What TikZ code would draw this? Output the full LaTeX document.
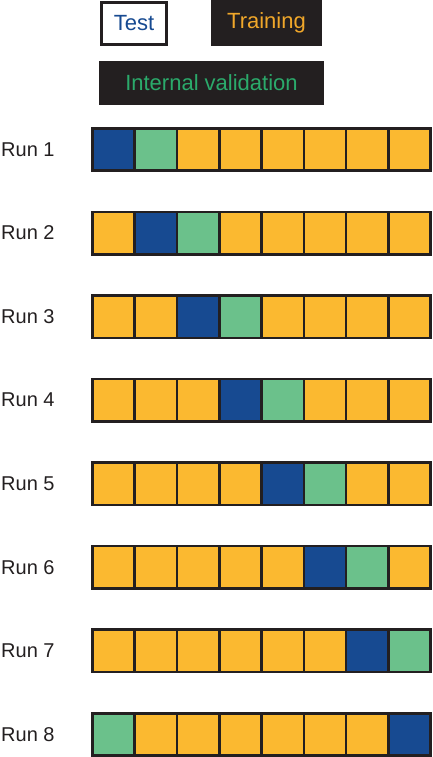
\documentclass[tikz,border=0pt]{standalone}
\usepackage{fontspec}
\setmainfont{Liberation Sans}
\usetikzlibrary{positioning}

\definecolor{testc}{HTML}{174A91}
\definecolor{valc}{HTML}{6BC18B}
\definecolor{trainc}{HTML}{FBB930}
\definecolor{edge}{HTML}{231F20}
\definecolor{traintxt}{HTML}{F0A72A}
\definecolor{valtxt}{HTML}{2BAA6B}

\begin{document}
\begin{tikzpicture}[x=1pt, y=-1pt,
    cell/.style={draw=edge, line width=2.6pt, minimum width=42.3pt,
        minimum height=42.4pt, inner sep=0pt},
    runlabel/.style={anchor=west, inner sep=0pt, text=edge,
        font=\fontsize{20}{24}\selectfont},
    legendbox/.style={inner sep=0pt, font=\fontsize{22}{26}\selectfont}]
    \useasboundingbox (0,0) rectangle (433,757);

    % parameters
    \def\xzero{92.3}  % left edge of the bars
    \def\cw{42.3}     % cell width
    \def\yone{149.5}  % centre of run 1
    \def\pitch{83.57} % distance between runs

    % legend
    \node[legendbox, draw=edge, line width=3pt, fill=white, text=testc,
        minimum width=65pt, minimum height=42pt] (test) at (134,23.5) {Test};
    \node[legendbox, fill=edge, text=traintxt,
        minimum width=111pt, minimum height=46pt] (train) at (266.5,23) {Training};
    \node[legendbox, fill=edge, text=valtxt,
        minimum width=225pt, minimum height=44pt] (valid) at (211.5,83) {Internal validation};

    % runs
    \foreach \r in {1,...,8} {
        \pgfmathsetmacro\yc{\yone+(\r-1)*\pitch}
        \node[runlabel] (run\r) at (1,\yc) {Run \r};
        \pgfmathtruncatemacro\v{mod(\r,8)+1}
        \foreach \c in {1,...,8} {
            \pgfmathsetmacro\xc{\xzero+\cw*(\c-0.5)}
            \ifnum\c=\r \def\fc{testc}\else
                \ifnum\c=\v \def\fc{valc}\else \def\fc{trainc}\fi\fi
            \node[cell, fill=\fc] (cell\r-\c) at (\xc,\yc) {};
        }
    }
\end{tikzpicture}
\end{document}
